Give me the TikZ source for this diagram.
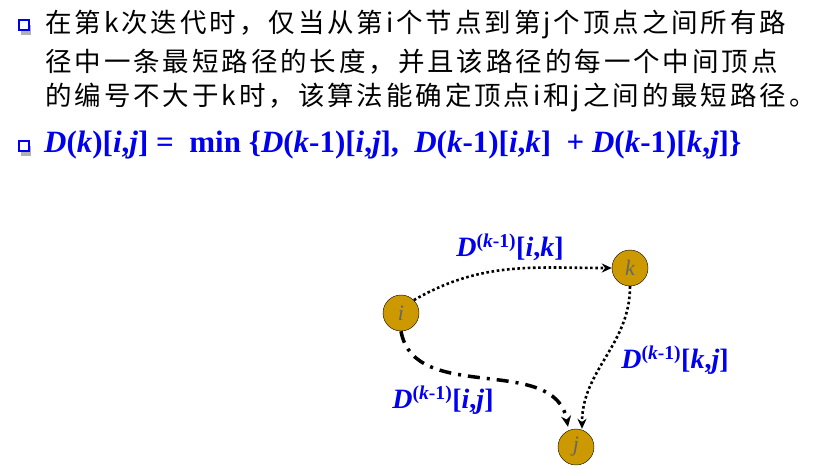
\documentclass[tikz,border=0pt]{standalone}
\usepackage{fontspec}
\setmainfont{Liberation Serif}
\newfontfamily\cjk[LetterSpace=11]{Noto Sans CJK SC}
\usetikzlibrary{arrows.meta,calc}
\definecolor{gold}{HTML}{CC9900}
\definecolor{dblue}{HTML}{0000EE}
\begin{document}
\begin{tikzpicture}[x=1pt,y=-1pt,
  vert/.style={circle,draw=black,fill=gold,minimum size=36pt,inner sep=0pt,font=\fontsize{22}{22}\selectfont\itshape,text=black!60},
  cn/.style={anchor=west,inner sep=0pt,font=\cjk\fontsize{26.5}{26}\selectfont},
  lab/.style={text=dblue,font=\fontsize{28}{28}\selectfont\bfseries,inner sep=0pt},
  bul/.style={draw=dblue,line width=1.3pt,minimum size=10pt,inner sep=0pt,fill=white},
  dotp/.style={line width=2.6pt,dash pattern=on 2.6pt off 2.6pt,-{Stealth[length=10pt,width=9pt]}}]
\useasboundingbox (0,0) rectangle (817,467);
\fill[gray!60] (21,25) rectangle (31,35);
\node[bul] (b1) at (24,25) {};
\fill[gray!60] (21,146) rectangle (31,156);
\node[bul] (b2) at (24,146) {};
\node[cn] (t1) at (45,25) {在第k次迭代时，仅当从第i个节点到第j个顶点之间所有路};
\node[cn] (t2) at (45,62) {径中一条最短路径的长度，并且该路径的每一个中间顶点};
\node[cn] (t3) at (45,97) {的编号不大于k时，该算法能确定顶点i和j之间的最短路径。};
\node[lab,anchor=west,font=\fontsize{31}{31}\selectfont\bfseries] (f) at (44,145) {\textit{D}(\textit{k})[\textit{i},\textit{j}] =\ \ min \{\textit{D}(\textit{k}-1)[\textit{i},\textit{j}],\ \ \textit{D}(\textit{k}-1)[\textit{i},\textit{k}]\ \ + \textit{D}(\textit{k}-1)[\textit{k},\textit{j}]\}};
\node[vert] (i) at (401,313) {i};
\node[vert] (k) at (630,268) {k};
\node[vert] (j) at (576,447) {j};
\draw[dotp] (i.north east) to[out=30,in=180] (k.west);
\draw[dotp] (k.south) to[out=-90,in=90,looseness=1] ($(j.north)+(6,0)$);
\draw[line width=3.5pt,dash pattern=on 12pt off 7pt on 3pt off 7pt,-{Stealth[length=11pt,width=10pt]}] (i.south) to[out=-80,in=100] ($(j.north)+(-8,-2)$);
\node[lab] (l1) at (510,247) {\textit{D}\textsuperscript{(\textit{k}-1)}[\textit{i},\textit{k}]};
\node[lab] (l2) at (675,360) {\textit{D}\textsuperscript{(\textit{k}-1)}[\textit{k},\textit{j}]};
\node[lab] (l3) at (443,400) {\textit{D}\textsuperscript{(\textit{k}-1)}[\textit{i},\textit{j}]};
\end{tikzpicture}
\end{document}
